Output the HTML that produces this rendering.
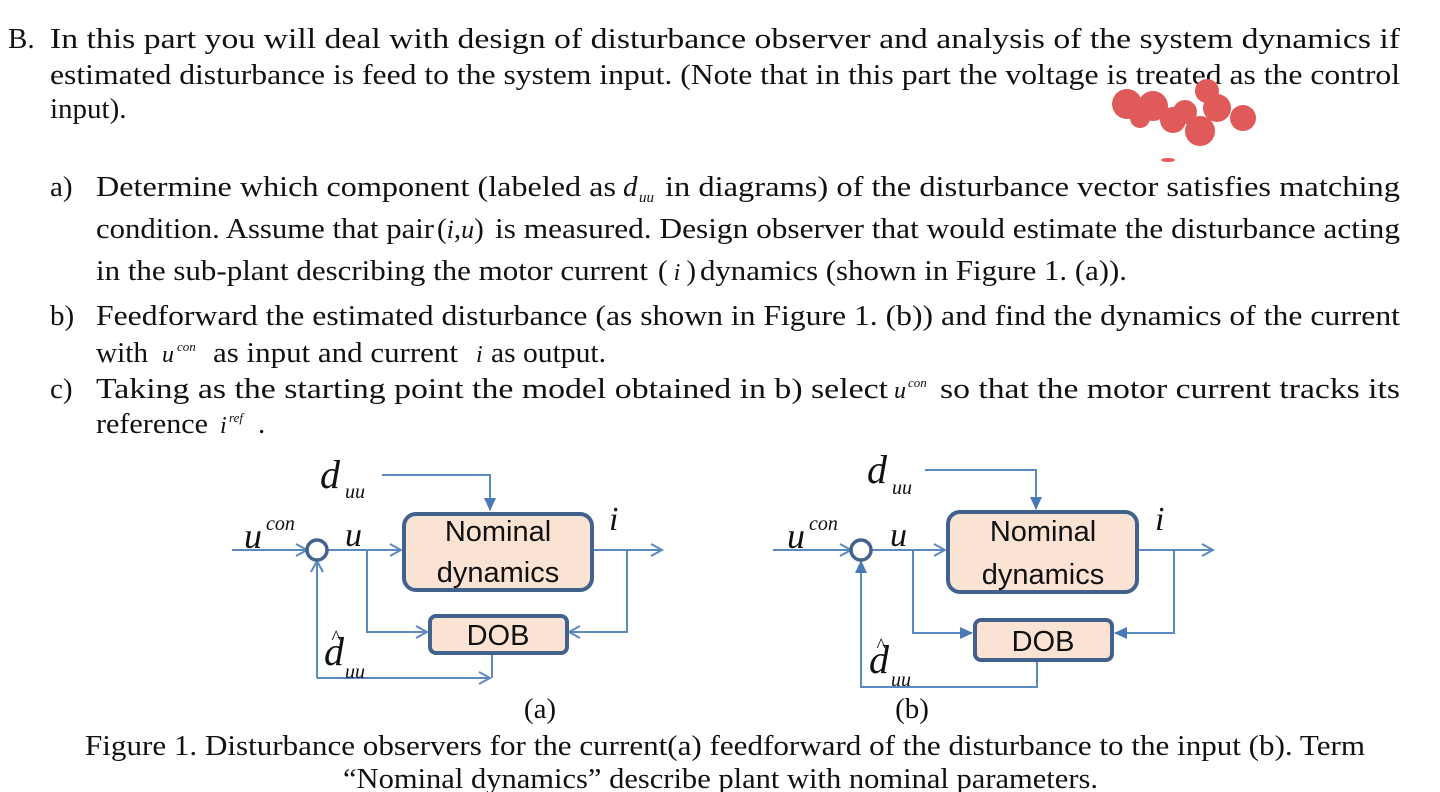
<!DOCTYPE html>
<html><head><meta charset="utf-8"><style>
html,body{margin:0;padding:0;background:#fff;width:1440px;height:792px;overflow:hidden}
svg{display:block}
.t{font-family:"Liberation Serif",serif;font-size:29px;fill:#111}
.i{font-family:"Liberation Serif",serif;font-style:italic;fill:#111}
.s{font-family:"Liberation Sans",sans-serif;font-size:29px;fill:#111}
.ln{stroke:#5b8ac0;stroke-width:2;fill:none}
.bx{fill:#fbe3d3;stroke:#41628c;stroke-width:4}
</style></head><body>
<svg width="1440" height="792" viewBox="0 0 1440 792" xmlns="http://www.w3.org/2000/svg">
<defs>
<marker id="op" markerWidth="14" markerHeight="14" refX="12" refY="7" orient="auto" markerUnits="userSpaceOnUse"><path d="M1,1 L12,7 L1,13" fill="none" stroke="#5b8ac0" stroke-width="2"/></marker>
<marker id="fl" markerWidth="14" markerHeight="14" refX="12" refY="7" orient="auto" markerUnits="userSpaceOnUse"><path d="M0,1 L13,7 L0,13 z" fill="#4a7ab5"/></marker>
</defs>
<text class="t" x="8" y="48">B.</text>
<text class="t" x="50" y="48" textLength="1350" lengthAdjust="spacingAndGlyphs">In this part you will deal with design of disturbance observer and analysis of the system dynamics if</text>
<text class="t" x="50" y="84" textLength="1350" lengthAdjust="spacingAndGlyphs">estimated disturbance is feed to the system input. (Note that in this part the voltage is treated as the control</text>
<text class="t" x="50" y="118">input).</text>

<text class="t" x="50" y="196">a)</text>
<text class="t" x="96" y="196" textLength="520" lengthAdjust="spacingAndGlyphs">Determine which component (labeled as</text>
<text class="i" x="623" y="196" font-size="29">d</text><text class="i" x="639" y="202" font-size="15">uu</text>
<text class="t" x="665" y="196" textLength="735" lengthAdjust="spacingAndGlyphs">in diagrams) of the disturbance vector satisfies matching</text>
<text class="t" x="96" y="238" textLength="338" lengthAdjust="spacingAndGlyphs">condition. Assume that pair</text>
<text class="t" x="437" y="238">(<tspan class="i" font-size="26">i</tspan>,<tspan class="i" font-size="26">u</tspan>)</text>
<text class="t" x="495" y="238" textLength="905" lengthAdjust="spacingAndGlyphs">is measured. Design observer that would estimate the disturbance acting</text>
<text class="t" x="96" y="280" textLength="552" lengthAdjust="spacingAndGlyphs">in the sub-plant describing the motor current</text>
<text class="t" x="658" y="280">(<tspan class="i" font-size="24"> i </tspan>)</text>
<text class="t" x="700" y="280" textLength="427" lengthAdjust="spacingAndGlyphs">dynamics (shown in Figure 1. (a)).</text>

<text class="t" x="50" y="325">b)</text>
<text class="t" x="96" y="325" textLength="1304" lengthAdjust="spacingAndGlyphs">Feedforward the estimated disturbance (as shown in Figure 1. (b)) and find the dynamics of the current</text>
<text class="t" x="96" y="362" textLength="52" lengthAdjust="spacingAndGlyphs">with</text>
<text class="i" x="162" y="362" font-size="24">u</text><text class="i" x="177" y="351" font-size="13">con</text>
<text class="t" x="213" y="362" textLength="245" lengthAdjust="spacingAndGlyphs">as input and current</text>
<text class="i" x="476" y="362" font-size="24">i</text>
<text class="t" x="491" y="362" textLength="115" lengthAdjust="spacingAndGlyphs">as output.</text>

<text class="t" x="50" y="398">c)</text>
<text class="t" x="96" y="398" textLength="792" lengthAdjust="spacingAndGlyphs">Taking as the starting point the model obtained in b) select</text>
<text class="i" x="894" y="398" font-size="24">u</text><text class="i" x="908" y="387" font-size="13">con</text>
<text class="t" x="940" y="398" textLength="460" lengthAdjust="spacingAndGlyphs">so that the motor current tracks its</text>
<text class="t" x="96" y="433" textLength="112" lengthAdjust="spacingAndGlyphs">reference</text>
<text class="i" x="220" y="433" font-size="24">i</text><text class="i" x="229" y="422" font-size="13">ref</text>
<text class="t" x="258" y="433">.</text>

<g fill="#e05a5a">
<circle cx="1127" cy="104" r="15"/><circle cx="1153" cy="106" r="15"/><circle cx="1173" cy="120" r="13"/>
<circle cx="1185" cy="112" r="12"/><circle cx="1200" cy="131" r="15"/><circle cx="1207" cy="91" r="12"/>
<circle cx="1217" cy="108" r="14"/><circle cx="1243" cy="118" r="13"/><circle cx="1140" cy="118" r="10"/>
<ellipse cx="1168" cy="160" rx="7" ry="2"/>
</g>

<!-- Diagram (a) -->
<polyline class="ln" points="382,475 490,475 490,510" marker-end="url(#fl)"/>
<line class="ln" x1="232" y1="550" x2="307" y2="550" marker-end="url(#op)"/>
<line class="ln" x1="327" y1="550" x2="401" y2="550" marker-end="url(#op)"/>
<polyline class="ln" points="367,550 367,632 427,632" marker-end="url(#op)"/>
<line class="ln" x1="593" y1="550" x2="662" y2="550" marker-end="url(#op)"/>
<polyline class="ln" points="627,550 627,632 569,632" marker-end="url(#op)"/>
<line class="ln" x1="492" y1="654" x2="492" y2="678"/>
<polyline class="ln" points="317,678 490,678" marker-end="url(#op)"/>
<polyline class="ln" points="317,678 317,561" marker-end="url(#op)"/>
<circle cx="317" cy="550" r="10" fill="#fff" stroke="#41628c" stroke-width="3.5"/>
<rect class="bx" x="404" y="514" width="188" height="76" rx="12"/>
<text class="s" x="498" y="541" text-anchor="middle">Nominal</text>
<text class="s" x="498" y="582" text-anchor="middle">dynamics</text>
<rect class="bx" x="430" y="616" width="137" height="37" rx="6"/>
<text class="s" x="498" y="645" text-anchor="middle">DOB</text>
<text class="i" x="320" y="488" font-size="40">d</text><text class="i" x="345" y="498" font-size="20">uu</text>
<text class="i" x="244" y="548" font-size="36">u</text><text class="i" x="266" y="530" font-size="20">con</text>
<text class="i" x="345" y="546" font-size="34">u</text>
<text class="i" x="609" y="530" font-size="34">i</text>
<text class="i" x="324" y="665" font-size="40">d</text><text class="i" x="331" y="644" font-size="20">^</text><text class="i" x="345" y="678" font-size="20">uu</text>
<text class="t" x="540" y="718" text-anchor="middle" font-size="27">(a)</text>

<!-- Diagram (b) -->
<polyline class="ln" points="925,470 1036,470 1036,509" marker-end="url(#fl)"/>
<line class="ln" x1="773" y1="550" x2="851" y2="550" marker-end="url(#op)"/>
<line class="ln" x1="871" y1="550" x2="945" y2="550" marker-end="url(#op)"/>
<polyline class="ln" points="913,550 913,633 972,633" marker-end="url(#fl)"/>
<line class="ln" x1="1139" y1="550" x2="1213" y2="550" marker-end="url(#op)"/>
<polyline class="ln" points="1174,550 1174,633 1115,633" marker-end="url(#fl)"/>
<polyline class="ln" points="1037,662 1037,687 861,687 861,561" marker-end="url(#fl)"/>
<circle cx="861" cy="550" r="10" fill="#fff" stroke="#41628c" stroke-width="3.5"/>
<rect class="bx" x="948" y="512" width="189" height="80" rx="12"/>
<text class="s" x="1043" y="541" text-anchor="middle">Nominal</text>
<text class="s" x="1043" y="584" text-anchor="middle">dynamics</text>
<rect class="bx" x="975" y="620" width="137" height="40" rx="6"/>
<text class="s" x="1043" y="651" text-anchor="middle">DOB</text>
<text class="i" x="867" y="483" font-size="40">d</text><text class="i" x="892" y="494" font-size="20">uu</text>
<text class="i" x="787" y="548" font-size="36">u</text><text class="i" x="809" y="530" font-size="20">con</text>
<text class="i" x="890" y="546" font-size="34">u</text>
<text class="i" x="1155" y="530" font-size="34">i</text>
<text class="i" x="869" y="673" font-size="40">d</text><text class="i" x="876" y="652" font-size="20">^</text><text class="i" x="891" y="686" font-size="20">uu</text>
<text class="t" x="912" y="718" text-anchor="middle" font-size="27">(b)</text>

<text class="t" x="85" y="755" font-size="27" textLength="1280" lengthAdjust="spacingAndGlyphs">Figure 1. Disturbance observers for the current(a) feedforward of the disturbance to the input (b). Term</text>
<text class="t" x="343" y="788" font-size="27" textLength="755" lengthAdjust="spacingAndGlyphs">“Nominal dynamics” describe plant with nominal parameters.</text>
</svg>
</body></html>
